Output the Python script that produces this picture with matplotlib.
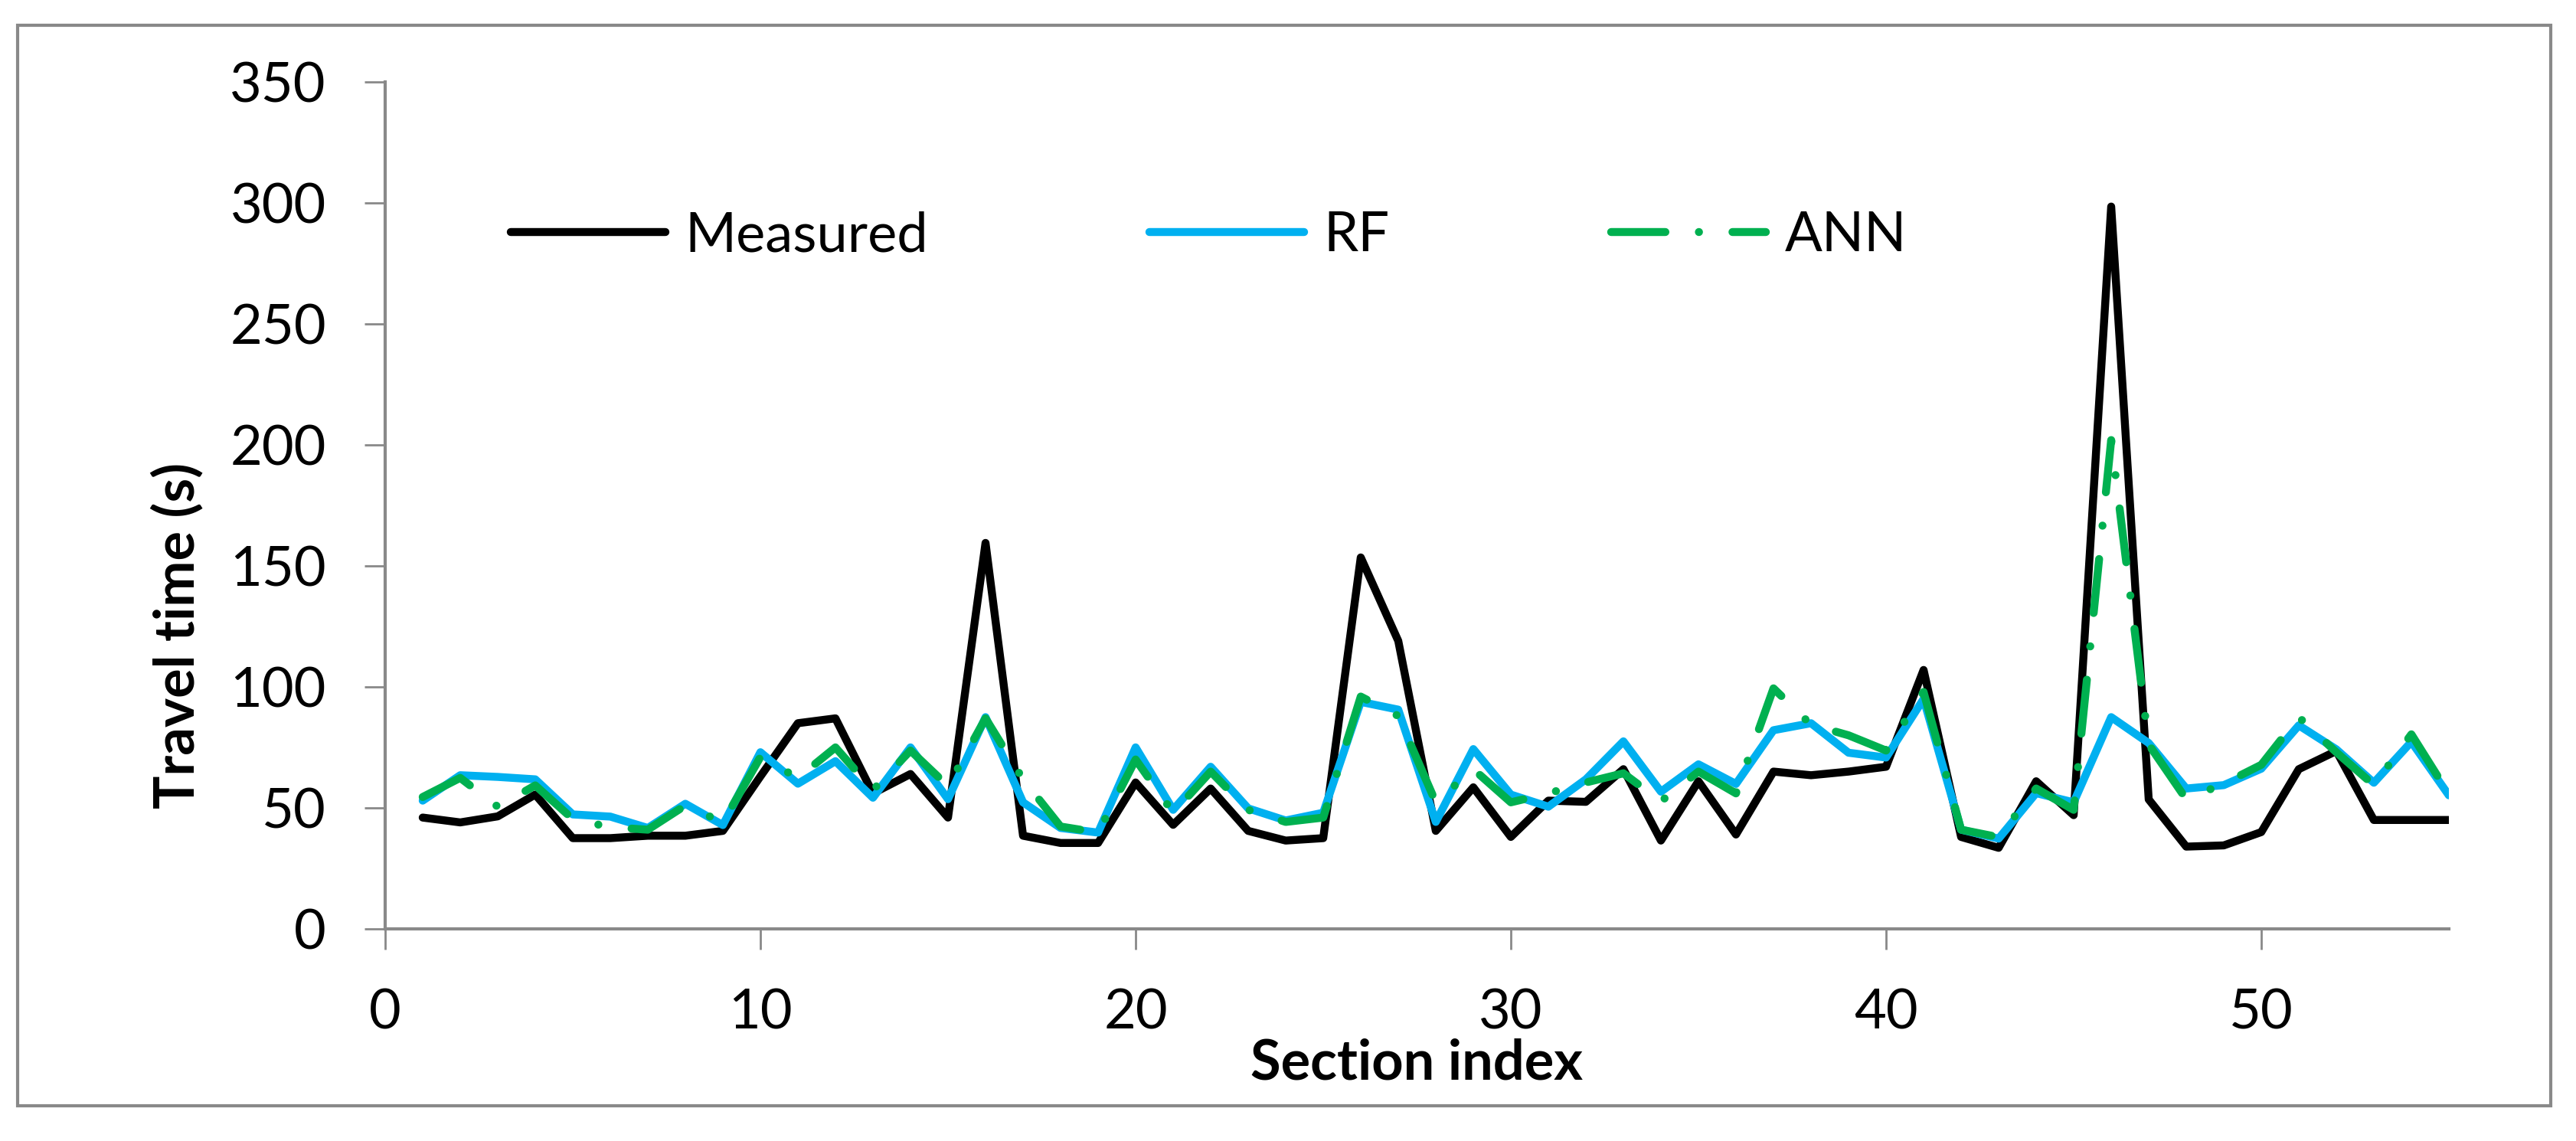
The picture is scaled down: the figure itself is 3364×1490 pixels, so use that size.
import matplotlib
matplotlib.use('Agg')
import matplotlib.pyplot as plt
from matplotlib.patches import Rectangle

plt.rcParams['font.family'] = ['Lato', 'DejaVu Sans']

section = list(range(1, 56))
measured = [46, 44, 46.5, 55.5, 37.5, 37.5, 38.5, 38.5, 40.5, 63,
            85, 87, 56, 64, 46, 159.5, 38.5, 35.5, 35.5, 60.5,
            43, 58, 40.5, 36.5, 37.5, 153.5, 119, 40.5, 58.5, 38,
            53, 52.5, 66, 36.5, 61, 39, 65, 63.5, 65, 67,
            107, 38, 33.5, 61, 47, 298.5, 53.5, 34, 34.5, 40,
            66, 73.5, 45, 45, 45]
rf = [53, 63.5, 62.8, 61.8, 47.3, 46.4, 41.7, 51.7, 42.9, 73,
      60, 69.3, 54.2, 75, 53.6, 87.5, 52.3, 41.7, 39.8, 75,
      49.2, 67, 49.8, 44.8, 48, 93.8, 90.6, 44.2, 74.3, 55.5,
      50.5, 61.8, 77.5, 56.7, 68, 59.9, 82.1, 85, 72.8, 70.8,
      95, 41, 37.3, 56.1, 52.3, 87.5, 76.8, 58, 59.4, 66.2,
      84.1, 74.2, 60.4, 77.3, 55.2]
ann = [54.5, 62.4, 50.5, 59.3, 45.4, 42, 41, 51, 44, 71,
       62.4, 75, 57.4, 73.7, 59, 87, 61.8, 42.3, 39.8, 70,
       48, 65, 49.2, 44.2, 46, 96, 88, 52.3, 66, 52.3,
       56, 60.5, 64.3, 52.7, 65, 56, 99.4, 84.4, 80, 73.7,
       97.9, 41, 37.9, 58, 49.2, 202, 76.2, 53.6, 60, 67.8,
       87.5, 73, 59.4, 80.4, 55.7]

W, H = 3364, 1490
fig = plt.figure(figsize=(W / 100, H / 100), dpi=100)
ax = fig.add_axes([503 / W, 1 - 1213 / H, (3198 - 503) / W, (1213 - 107) / H])

grey = '#898989'
lw = 7.5
ax.plot(section, measured, color='black', lw=lw, label='Measured',
        solid_joinstyle='round', solid_capstyle='round')
ax.plot(section, rf, color='#00B0F0', lw=lw, label='RF',
        solid_joinstyle='round', solid_capstyle='round')
ax.plot(section, ann, color='#00B050', lw=lw, label='ANN',
        linestyle=(0, (6.8, 4.2, 0.01, 4.2)),
        dash_capstyle='round', dash_joinstyle='round')

ax.set_xlim(0, 55)
ax.set_ylim(0, 350)
ax.set_xticks(range(0, 51, 10))
ax.set_yticks(range(0, 351, 50))

for s in ['top', 'right']:
    ax.spines[s].set_visible(False)
for s in ['left', 'bottom']:
    ax.spines[s].set_color(grey)
    ax.spines[s].set_linewidth(3)
ax.tick_params(axis='both', direction='out', length=19.5, width=2,
               color=grey, labelsize=52, pad=36)

ax.legend(loc='center left', bbox_to_anchor=(667 / W, 1 - 308 / H),
          bbox_transform=fig.transFigure, ncol=3, frameon=False,
          fontsize=52, handlelength=2.8, handletextpad=0.35,
          columnspacing=4.0, borderpad=0, borderaxespad=0)

fig.text(1850 / W, 1 - 1410 / H, 'Section index', ha='center', va='baseline',
         fontsize=52, fontweight='bold')
fig.text(253 / W, 660 / H, 'Travel time (s)', ha='center', va='baseline',
         rotation=90, rotation_mode='anchor', fontsize=52, fontweight='bold')

fig.patches.append(Rectangle((23 / W, 1 - 1444 / H), (3331 - 23) / W, (1444 - 33) / H,
                             transform=fig.transFigure, fill=False,
                             edgecolor=grey, lw=3))

fig.savefig('out.png', dpi=100)
